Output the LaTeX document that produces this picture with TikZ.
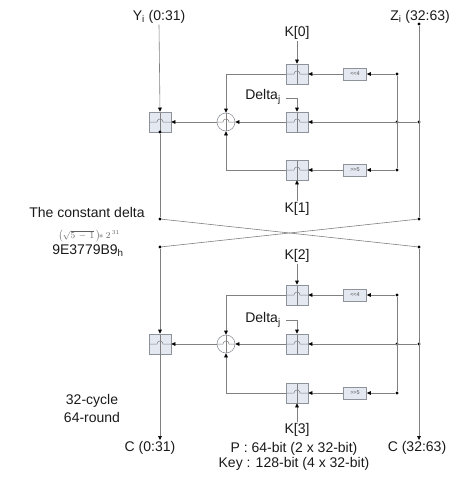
\documentclass[tikz,border=0pt]{standalone}
\usepackage{fontspec}
\setmainfont{Liberation Sans}
\usetikzlibrary{arrows.meta,calc}
\definecolor{linec}{HTML}{808080}
\definecolor{boxfill}{HTML}{E3E8F1}
\definecolor{boxdraw}{HTML}{8E939B}
\definecolor{txt}{HTML}{1A1A1A}
\begin{document}
\begin{tikzpicture}[x=1pt,y=-1pt,
  wire/.style={draw=linec,line width=0.6pt},
  arr/.style={wire,-{Triangle[length=4pt,width=3.6pt,color=black]}},
  sym/.style={path picture={
     \draw[linec,line width=0.5pt] (path picture bounding box.north) -- (path picture bounding box.south);
     \draw[linec,line width=0.5pt] (path picture bounding box.west) -- ($(path picture bounding box.center)+(-3pt,0pt)$)
        arc[start angle=180,end angle=0,radius=3pt] -- (path picture bounding box.east);}},
  addbox/.style={sym,draw=boxdraw,fill=boxfill,line width=0.6pt,minimum width=22pt,minimum height=20pt,inner sep=0pt},
  xorc/.style={sym,circle,draw=boxdraw,fill=white,line width=0.6pt,minimum size=18pt,inner sep=0pt},
  shbox/.style={draw=boxdraw,fill=boxfill,line width=0.6pt,minimum width=23pt,minimum height=12pt,inner sep=0pt,
     font=\fontsize{5.5}{5.5}\selectfont,text=txt!75},
  dot/.style={circle,fill=black,inner sep=0pt,minimum size=3.2pt},
  lab/.style={font=\fontsize{14}{15}\selectfont,text=txt,inner sep=1pt}
]
\useasboundingbox (0,0) rectangle (474,487);

% ---------- top half ----------
\node[lab] (ylab) at (159,17) {Y\textsubscript{i} (0:31)};
\node[lab] (zlab) at (420,17) {Z\textsubscript{i} (32:63)};
\node[dot] (ztop) at (419,24) {};

\node[addbox] (lbox1) at (160,122) {};
\node[xorc] (xor1) at (226,122) {};
\node[addbox] (k0box) at (297,74) {};
\node[addbox] (dbox1) at (297,122) {};
\node[addbox] (k1box) at (297,170) {};
\node[shbox] (shl1) at (355,74) {{<}{<}4};
\node[shbox] (shr1) at (355,170) {{>}{>}5};

\node[dot] (v1a) at (397,74) {};
\node[dot] (v1b) at (397,122) {};
\node[dot] (v1c) at (397,170) {};
\node[dot] (zr1) at (419,122) {};
\node[dot] (lbot1) at (160,132) {};

\node[lab] (k0) at (297,33) {K[0]};
\node[lab] (k1) at (297,209) {K[1]};
\node[lab] (dl1) at (263,97) {Delta\textsubscript{j}};
\coordinate (ds1) at (286,98);

\node[dot] (yx1) at (160,219) {};
\node[dot] (zx1) at (419,219) {};
\node[dot] (yx2) at (160,247) {};
\node[dot] (zx2) at (419,247) {};

\draw[arr] (ylab.south) -- (lbox1.north);
\draw[wire] (ztop) -- (zx1);
\draw[wire] (v1a) -- (v1c);
\draw[arr] (v1a) -- (shl1.east);
\draw[arr] (shl1.west) -- (k0box.east);
\draw[arr] (v1c) -- (shr1.east);
\draw[arr] (shr1.west) -- (k1box.east);
\draw[arr] (zr1) -- (dbox1.east);
\draw[arr] (k0.south) -- (k0box.north);
\draw[arr] (k1.north) -- (k1box.south);
\draw[arr] (ds1) -| (dbox1.north);
\draw[arr] (k0box.west) -| (xor1.north);
\draw[arr] (k1box.west) -| (xor1.south);
\draw[arr] (dbox1.west) -- (xor1.east);
\draw[arr] (xor1.west) -- (lbox1.east);
\draw[wire] (lbot1) -- (yx1);

% ---------- crossing ----------
\draw[wire] (yx1) -- (zx2);
\draw[wire] (zx1) -- (yx2);

\node[lab,inner sep=0pt] (cd) at (87,212) {The constant delta};
\node[text=txt!70,inner sep=0pt] (form) at (89,236)
  {\fontsize{9}{9}\selectfont$\bigl(\sqrt{5\,-\,1}\,\bigr)\!{*}\;2^{\,31}$};
\node[lab,inner sep=0pt] (hex) at (88,251) {9E3779B9\textsubscript{h}};

% ---------- bottom half ----------
\node[addbox] (lbox2) at (160,344) {};
\node[xorc] (xor2) at (226,344) {};
\node[addbox] (k2box) at (297,295) {};
\node[addbox] (dbox2) at (297,344) {};
\node[addbox] (k3box) at (297,393) {};
\node[shbox] (shl2) at (355,295) {{<}{<}4};
\node[shbox] (shr2) at (355,393) {{>}{>}5};

\node[dot] (v2a) at (397,295) {};
\node[dot] (v2b) at (397,344) {};
\node[dot] (v2c) at (397,393) {};
\node[dot] (zr2) at (419,344) {};

\node[lab] (k2) at (297,256) {K[2]};
\node[lab] (k3) at (297,430) {K[3]};
\node[lab] (dl2) at (263,320) {Delta\textsubscript{j}};
\coordinate (ds2) at (286,320);

\coordinate (cl) at (160,440);
\coordinate (cr) at (419,440);
\node[lab] (c1) at (150,448) {C (0:31)};
\node[lab] (c2) at (417,448) {C (32:63)};

\draw[arr] (yx2) -- (lbox2.north);
\draw[arr] (lbox2.south) -- (cl);
\draw[arr] (zx2) -- (cr);
\draw[wire] (v2a) -- (v2c);
\draw[arr] (v2a) -- (shl2.east);
\draw[arr] (shl2.west) -- (k2box.east);
\draw[arr] (v2c) -- (shr2.east);
\draw[arr] (shr2.west) -- (k3box.east);
\draw[arr] (zr2) -- (dbox2.east);
\draw[arr] (k2.south) -- (k2box.north);
\draw[arr] (k3.north) -- (k3box.south);
\draw[arr] (ds2) -| (dbox2.north);
\draw[arr] (k2box.west) -| (xor2.north);
\draw[arr] (k3box.west) -| (xor2.south);
\draw[arr] (dbox2.west) -- (xor2.east);
\draw[arr] (xor2.west) -- (lbox2.east);

\node[lab,align=center,font=\fontsize{14}{18}\selectfont] (cyc) at (92,408) {32-cycle\\64-round};
\node[lab,align=center,font=\fontsize{14}{15}\selectfont] (pk) at (294,456.5) {P : 64-bit (2 x 32-bit)\\Key : 128-bit (4 x 32-bit)};
\end{tikzpicture}
\end{document}
